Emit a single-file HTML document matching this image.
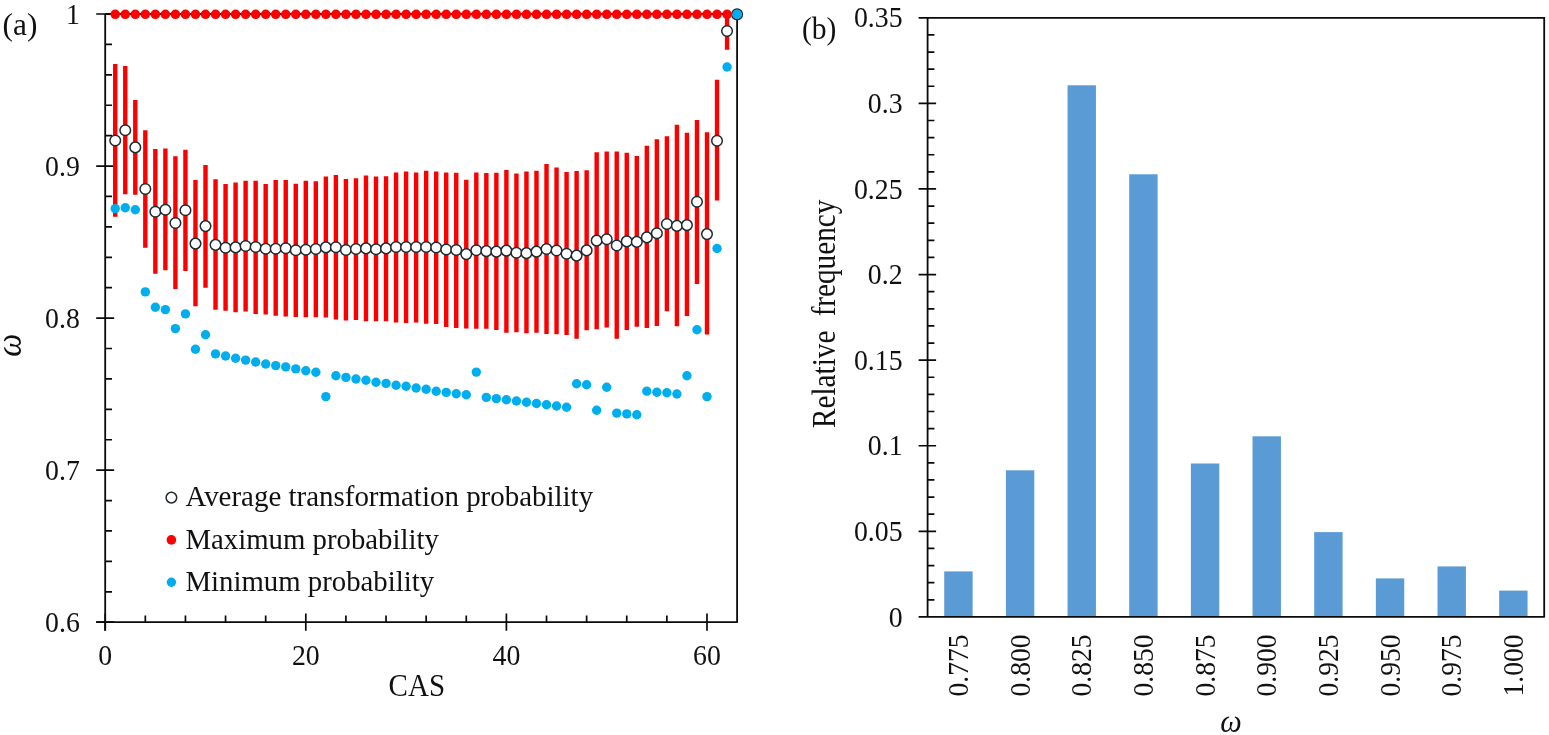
<!DOCTYPE html>
<html><head><meta charset="utf-8"><title>Figure</title>
<style>html,body{margin:0;padding:0;background:#fff}svg{display:block}text{font-family:"Liberation Serif",serif;fill:#111}</style></head><body>
<svg width="1549" height="735" viewBox="0 0 1549 735">
<rect width="1549" height="735" fill="#fff"/>
<g id="chart-a">
<path d="M105.2 14.0H737.1V622.2" fill="none" stroke="#0a0a0a" stroke-width="1.8"/>
<path d="M105.2 14.0V630.7M96.2 622.2H737.8" fill="none" stroke="#0a0a0a" stroke-width="1.8"/>
<path d="M96.2 14.00H114.2M105.2 44.41H112.0M105.2 74.82H112.0M105.2 105.23H112.0M105.2 135.64H112.0M96.2 166.05H114.2M105.2 196.46H112.0M105.2 226.87H112.0M105.2 257.28H112.0M105.2 287.69H112.0M96.2 318.10H114.2M105.2 348.51H112.0M105.2 378.92H112.0M105.2 409.33H112.0M105.2 439.74H112.0M96.2 470.15H114.2M105.2 500.56H112.0M105.2 530.97H112.0M105.2 561.38H112.0M105.2 591.79H112.0M96.2 622.20H114.2M105.20 613.4000000000001V630.7M145.32 615.4000000000001V622.2M185.44 615.4000000000001V622.2M225.56 615.4000000000001V622.2M265.68 615.4000000000001V622.2M305.80 613.4000000000001V630.7M345.92 615.4000000000001V622.2M386.04 615.4000000000001V622.2M426.16 615.4000000000001V622.2M466.28 615.4000000000001V622.2M506.40 613.4000000000001V630.7M546.52 615.4000000000001V622.2M586.64 615.4000000000001V622.2M626.76 615.4000000000001V622.2M666.88 615.4000000000001V622.2M707.00 613.4000000000001V630.7" fill="none" stroke="#0a0a0a" stroke-width="1.7"/>
<path d="M115.23 64.0V216.7M125.26 66.1V194.2M135.29 100.0V194.7M145.32 130.2V247.7M155.35 149.0V273.8M165.38 148.5V270.2M175.41 156.3V289.0M185.44 149.8V271.0M195.47 180.0V306.3M205.50 165.0V287.7M215.53 179.2V309.7M225.56 184.1V310.7M235.59 182.5V312.3M245.62 180.8V311.5M255.65 180.8V314.0M265.68 184.1V314.5M275.71 180.0V315.8M285.74 180.0V316.5M295.77 183.8V317.0M305.80 180.8V317.3M315.83 181.3V317.2M325.86 176.4V317.6M335.89 174.9V319.5M345.92 179.0V320.5M355.95 178.2V320.0M365.98 175.4V321.3M376.01 176.5V321.3M386.04 176.2V321.3M396.07 172.5V322.5M406.10 171.6V323.0M416.13 172.5V322.6M426.16 170.8V323.8M436.19 171.6V324.1M446.22 172.5V327.1M456.25 172.8V327.9M466.28 179.8V328.4M476.31 172.5V328.7M486.34 172.9V328.7M496.37 172.8V330.0M506.40 170.0V332.8M516.43 173.6V332.3M526.46 171.6V333.3M536.49 170.8V332.8M546.52 164.0V334.1M556.55 167.5V334.3M566.58 171.9V334.9M576.61 171.0V338.7M586.64 170.2V330.3M596.67 152.3V329.2M606.70 151.4V327.6M616.73 151.4V338.7M626.76 152.7V330.0M636.79 156.0V326.7M646.82 145.7V327.9M656.85 139.2V325.9M666.88 136.3V311.2M676.91 124.8V326.3M686.94 132.7V316.1M696.97 120.1V283.9M707.00 132.3V334.6M717.03 79.7V200.5M727.06 14.0V49.8" fill="none" stroke="#fa0000" stroke-width="4.4"/>
<g fill="#fff" stroke="#1f2a30" stroke-width="1.5">
<circle cx="115.23" cy="140.5" r="5.3"/>
<circle cx="125.26" cy="130.2" r="5.3"/>
<circle cx="135.29" cy="147.4" r="5.3"/>
<circle cx="145.32" cy="189.0" r="5.3"/>
<circle cx="155.35" cy="211.8" r="5.3"/>
<circle cx="165.38" cy="209.8" r="5.3"/>
<circle cx="175.41" cy="223.0" r="5.3"/>
<circle cx="185.44" cy="210.3" r="5.3"/>
<circle cx="195.47" cy="243.6" r="5.3"/>
<circle cx="205.50" cy="226.1" r="5.3"/>
<circle cx="215.53" cy="244.9" r="5.3"/>
<circle cx="225.56" cy="247.7" r="5.3"/>
<circle cx="235.59" cy="247.4" r="5.3"/>
<circle cx="245.62" cy="246.0" r="5.3"/>
<circle cx="255.65" cy="247.0" r="5.3"/>
<circle cx="265.68" cy="248.7" r="5.3"/>
<circle cx="275.71" cy="248.7" r="5.3"/>
<circle cx="285.74" cy="248.3" r="5.3"/>
<circle cx="295.77" cy="250.3" r="5.3"/>
<circle cx="305.80" cy="249.8" r="5.3"/>
<circle cx="315.83" cy="249.0" r="5.3"/>
<circle cx="325.86" cy="247.4" r="5.3"/>
<circle cx="335.89" cy="247.2" r="5.3"/>
<circle cx="345.92" cy="250.0" r="5.3"/>
<circle cx="355.95" cy="249.0" r="5.3"/>
<circle cx="365.98" cy="248.4" r="5.3"/>
<circle cx="376.01" cy="249.2" r="5.3"/>
<circle cx="386.04" cy="248.4" r="5.3"/>
<circle cx="396.07" cy="247.0" r="5.3"/>
<circle cx="406.10" cy="247.0" r="5.3"/>
<circle cx="416.13" cy="247.0" r="5.3"/>
<circle cx="426.16" cy="247.0" r="5.3"/>
<circle cx="436.19" cy="247.5" r="5.3"/>
<circle cx="446.22" cy="249.5" r="5.3"/>
<circle cx="456.25" cy="250.0" r="5.3"/>
<circle cx="466.28" cy="254.1" r="5.3"/>
<circle cx="476.31" cy="250.3" r="5.3"/>
<circle cx="486.34" cy="251.1" r="5.3"/>
<circle cx="496.37" cy="251.6" r="5.3"/>
<circle cx="506.40" cy="250.6" r="5.3"/>
<circle cx="516.43" cy="252.8" r="5.3"/>
<circle cx="526.46" cy="253.1" r="5.3"/>
<circle cx="536.49" cy="251.6" r="5.3"/>
<circle cx="546.52" cy="249.0" r="5.3"/>
<circle cx="556.55" cy="250.5" r="5.3"/>
<circle cx="566.58" cy="253.7" r="5.3"/>
<circle cx="576.61" cy="255.6" r="5.3"/>
<circle cx="586.64" cy="250.4" r="5.3"/>
<circle cx="596.67" cy="240.6" r="5.3"/>
<circle cx="606.70" cy="239.3" r="5.3"/>
<circle cx="616.73" cy="245.5" r="5.3"/>
<circle cx="626.76" cy="241.4" r="5.3"/>
<circle cx="636.79" cy="241.9" r="5.3"/>
<circle cx="646.82" cy="237.4" r="5.3"/>
<circle cx="656.85" cy="233.3" r="5.3"/>
<circle cx="666.88" cy="224.0" r="5.3"/>
<circle cx="676.91" cy="225.9" r="5.3"/>
<circle cx="686.94" cy="225.1" r="5.3"/>
<circle cx="696.97" cy="201.8" r="5.3"/>
<circle cx="707.00" cy="234.1" r="5.3"/>
<circle cx="717.03" cy="140.8" r="5.3"/>
<circle cx="727.06" cy="31.0" r="5.3"/>
<circle cx="737.09" cy="14.4" r="5.3"/>
</g>
<g fill="#ff0000">
<circle cx="115.23" cy="14.3" r="4.8"/>
<circle cx="125.26" cy="14.3" r="4.8"/>
<circle cx="135.29" cy="14.3" r="4.8"/>
<circle cx="145.32" cy="14.3" r="4.8"/>
<circle cx="155.35" cy="14.3" r="4.8"/>
<circle cx="165.38" cy="14.3" r="4.8"/>
<circle cx="175.41" cy="14.3" r="4.8"/>
<circle cx="185.44" cy="14.3" r="4.8"/>
<circle cx="195.47" cy="14.3" r="4.8"/>
<circle cx="205.50" cy="14.3" r="4.8"/>
<circle cx="215.53" cy="14.3" r="4.8"/>
<circle cx="225.56" cy="14.3" r="4.8"/>
<circle cx="235.59" cy="14.3" r="4.8"/>
<circle cx="245.62" cy="14.3" r="4.8"/>
<circle cx="255.65" cy="14.3" r="4.8"/>
<circle cx="265.68" cy="14.3" r="4.8"/>
<circle cx="275.71" cy="14.3" r="4.8"/>
<circle cx="285.74" cy="14.3" r="4.8"/>
<circle cx="295.77" cy="14.3" r="4.8"/>
<circle cx="305.80" cy="14.3" r="4.8"/>
<circle cx="315.83" cy="14.3" r="4.8"/>
<circle cx="325.86" cy="14.3" r="4.8"/>
<circle cx="335.89" cy="14.3" r="4.8"/>
<circle cx="345.92" cy="14.3" r="4.8"/>
<circle cx="355.95" cy="14.3" r="4.8"/>
<circle cx="365.98" cy="14.3" r="4.8"/>
<circle cx="376.01" cy="14.3" r="4.8"/>
<circle cx="386.04" cy="14.3" r="4.8"/>
<circle cx="396.07" cy="14.3" r="4.8"/>
<circle cx="406.10" cy="14.3" r="4.8"/>
<circle cx="416.13" cy="14.3" r="4.8"/>
<circle cx="426.16" cy="14.3" r="4.8"/>
<circle cx="436.19" cy="14.3" r="4.8"/>
<circle cx="446.22" cy="14.3" r="4.8"/>
<circle cx="456.25" cy="14.3" r="4.8"/>
<circle cx="466.28" cy="14.3" r="4.8"/>
<circle cx="476.31" cy="14.3" r="4.8"/>
<circle cx="486.34" cy="14.3" r="4.8"/>
<circle cx="496.37" cy="14.3" r="4.8"/>
<circle cx="506.40" cy="14.3" r="4.8"/>
<circle cx="516.43" cy="14.3" r="4.8"/>
<circle cx="526.46" cy="14.3" r="4.8"/>
<circle cx="536.49" cy="14.3" r="4.8"/>
<circle cx="546.52" cy="14.3" r="4.8"/>
<circle cx="556.55" cy="14.3" r="4.8"/>
<circle cx="566.58" cy="14.3" r="4.8"/>
<circle cx="576.61" cy="14.3" r="4.8"/>
<circle cx="586.64" cy="14.3" r="4.8"/>
<circle cx="596.67" cy="14.3" r="4.8"/>
<circle cx="606.70" cy="14.3" r="4.8"/>
<circle cx="616.73" cy="14.3" r="4.8"/>
<circle cx="626.76" cy="14.3" r="4.8"/>
<circle cx="636.79" cy="14.3" r="4.8"/>
<circle cx="646.82" cy="14.3" r="4.8"/>
<circle cx="656.85" cy="14.3" r="4.8"/>
<circle cx="666.88" cy="14.3" r="4.8"/>
<circle cx="676.91" cy="14.3" r="4.8"/>
<circle cx="686.94" cy="14.3" r="4.8"/>
<circle cx="696.97" cy="14.3" r="4.8"/>
<circle cx="707.00" cy="14.3" r="4.8"/>
<circle cx="717.03" cy="14.3" r="4.8"/>
<circle cx="727.06" cy="14.3" r="4.8"/>
</g>
<g fill="#00adee">
<circle cx="115.23" cy="208.6" r="4.7"/>
<circle cx="125.26" cy="207.8" r="4.7"/>
<circle cx="135.29" cy="209.7" r="4.7"/>
<circle cx="145.32" cy="291.9" r="4.7"/>
<circle cx="155.35" cy="307.3" r="4.7"/>
<circle cx="165.38" cy="309.6" r="4.7"/>
<circle cx="175.41" cy="328.6" r="4.7"/>
<circle cx="185.44" cy="313.9" r="4.7"/>
<circle cx="195.47" cy="349.3" r="4.7"/>
<circle cx="205.50" cy="334.8" r="4.7"/>
<circle cx="215.53" cy="353.9" r="4.7"/>
<circle cx="225.56" cy="356.0" r="4.7"/>
<circle cx="235.59" cy="358.3" r="4.7"/>
<circle cx="245.62" cy="360.1" r="4.7"/>
<circle cx="255.65" cy="362.0" r="4.7"/>
<circle cx="265.68" cy="364.0" r="4.7"/>
<circle cx="275.71" cy="365.6" r="4.7"/>
<circle cx="285.74" cy="366.9" r="4.7"/>
<circle cx="295.77" cy="368.9" r="4.7"/>
<circle cx="305.80" cy="370.7" r="4.7"/>
<circle cx="315.83" cy="372.3" r="4.7"/>
<circle cx="325.86" cy="396.6" r="4.7"/>
<circle cx="335.89" cy="375.8" r="4.7"/>
<circle cx="345.92" cy="377.4" r="4.7"/>
<circle cx="355.95" cy="379.0" r="4.7"/>
<circle cx="365.98" cy="380.3" r="4.7"/>
<circle cx="376.01" cy="382.3" r="4.7"/>
<circle cx="386.04" cy="383.4" r="4.7"/>
<circle cx="396.07" cy="385.2" r="4.7"/>
<circle cx="406.10" cy="386.3" r="4.7"/>
<circle cx="416.13" cy="388.0" r="4.7"/>
<circle cx="426.16" cy="389.3" r="4.7"/>
<circle cx="436.19" cy="391.2" r="4.7"/>
<circle cx="446.22" cy="392.4" r="4.7"/>
<circle cx="456.25" cy="393.7" r="4.7"/>
<circle cx="466.28" cy="394.8" r="4.7"/>
<circle cx="476.31" cy="372.1" r="4.7"/>
<circle cx="486.34" cy="397.4" r="4.7"/>
<circle cx="496.37" cy="398.6" r="4.7"/>
<circle cx="506.40" cy="399.7" r="4.7"/>
<circle cx="516.43" cy="401.0" r="4.7"/>
<circle cx="526.46" cy="402.2" r="4.7"/>
<circle cx="536.49" cy="403.5" r="4.7"/>
<circle cx="546.52" cy="404.8" r="4.7"/>
<circle cx="556.55" cy="406.0" r="4.7"/>
<circle cx="566.58" cy="407.3" r="4.7"/>
<circle cx="576.61" cy="383.7" r="4.7"/>
<circle cx="586.64" cy="384.8" r="4.7"/>
<circle cx="596.67" cy="410.3" r="4.7"/>
<circle cx="606.70" cy="387.3" r="4.7"/>
<circle cx="616.73" cy="413.1" r="4.7"/>
<circle cx="626.76" cy="413.9" r="4.7"/>
<circle cx="636.79" cy="414.7" r="4.7"/>
<circle cx="646.82" cy="391.1" r="4.7"/>
<circle cx="656.85" cy="392.3" r="4.7"/>
<circle cx="666.88" cy="392.8" r="4.7"/>
<circle cx="676.91" cy="394.0" r="4.7"/>
<circle cx="686.94" cy="375.8" r="4.7"/>
<circle cx="696.97" cy="329.7" r="4.7"/>
<circle cx="707.00" cy="396.6" r="4.7"/>
<circle cx="717.03" cy="248.5" r="4.7"/>
<circle cx="727.06" cy="67.0" r="4.7"/>
<circle cx="737.09" cy="14.4" r="4.7"/>
</g>
<g>
<text transform="translate(2.6 34.8) scale(1 0.99)" font-size="31.4px" text-anchor="start">(a)</text>
<text transform="translate(79.8 23.6) scale(1 1.07)" font-size="27.8px" text-anchor="end">1</text>
<text transform="translate(79.8 175.6) scale(1 1.07)" font-size="27.8px" text-anchor="end">0.9</text>
<text transform="translate(79.8 327.7) scale(1 1.07)" font-size="27.8px" text-anchor="end">0.8</text>
<text transform="translate(79.8 479.8) scale(1 1.07)" font-size="27.8px" text-anchor="end">0.7</text>
<text transform="translate(79.8 631.8) scale(1 1.07)" font-size="27.8px" text-anchor="end">0.6</text>
<text transform="translate(105.2 664.8) scale(1 1.07)" font-size="27.8px" text-anchor="middle">0</text>
<text transform="translate(305.8 664.8) scale(1 1.07)" font-size="27.8px" text-anchor="middle">20</text>
<text transform="translate(506.4 664.8) scale(1 1.07)" font-size="27.8px" text-anchor="middle">40</text>
<text transform="translate(707.0 664.8) scale(1 1.07)" font-size="27.8px" text-anchor="middle">60</text>
<text transform="translate(416.8 696.4) scale(1 1.07)" font-size="29px" text-anchor="middle">CAS</text>
<text transform="translate(20.6 345.3) rotate(-90) scale(1 1.1)" text-anchor="middle" font-style="italic" font-size="32.6px">ω</text>
<circle cx="171.4" cy="497.6" r="5.3" fill="#fff" stroke="#1f2a30" stroke-width="1.5"/>
<circle cx="171.4" cy="539.9" r="4.8" fill="#ff0000"/>
<circle cx="171.4" cy="582.2" r="4.7" fill="#00adee"/>
<text transform="translate(185.4 506.0) scale(1 1.035)" font-size="28.95px" text-anchor="start">Average transformation probability</text>
<text transform="translate(185.4 548.8) scale(1 1.035)" font-size="28.8px" text-anchor="start">Maximum probability</text>
<text transform="translate(185.4 591.3) scale(1 1.035)" font-size="28.8px" text-anchor="start">Minimum probability</text>
</g></g>
<g id="chart-b">
<g fill="#5b9bd5">
<rect x="944.23" y="571.4" width="28.4" height="45.5"/>
<rect x="1005.89" y="470.3" width="28.4" height="146.6"/>
<rect x="1067.55" y="85.3" width="28.4" height="531.6"/>
<rect x="1129.21" y="174.3" width="28.4" height="442.6"/>
<rect x="1190.87" y="463.5" width="28.4" height="153.4"/>
<rect x="1252.53" y="436.3" width="28.4" height="180.6"/>
<rect x="1314.19" y="532.1" width="28.4" height="84.8"/>
<rect x="1375.85" y="578.4" width="28.4" height="38.5"/>
<rect x="1437.51" y="566.4" width="28.4" height="50.5"/>
<rect x="1499.17" y="590.6" width="28.4" height="26.3"/>
</g>
<path d="M918.6 17.8H1544.2V616.9" fill="none" stroke="#0a0a0a" stroke-width="1.8"/>
<path d="M927.6 17.8V616.9M918.6 616.9H1544.9" fill="none" stroke="#0a0a0a" stroke-width="1.8"/>
<path d="M927.6 34.92H934.4M927.6 52.03H934.4M927.6 69.15H934.4M927.6 86.27H934.4M918.6 103.39H936.1M927.6 120.50H934.4M927.6 137.62H934.4M927.6 154.74H934.4M927.6 171.85H934.4M918.6 188.97H936.1M927.6 206.09H934.4M927.6 223.21H934.4M927.6 240.32H934.4M927.6 257.44H934.4M918.6 274.56H936.1M927.6 291.67H934.4M927.6 308.79H934.4M927.6 325.91H934.4M927.6 343.03H934.4M918.6 360.14H936.1M927.6 377.26H934.4M927.6 394.38H934.4M927.6 411.49H934.4M927.6 428.61H934.4M918.6 445.73H936.1M927.6 462.85H934.4M927.6 479.96H934.4M927.6 497.08H934.4M927.6 514.20H934.4M918.6 531.31H936.1M927.6 548.43H934.4M927.6 565.55H934.4M927.6 582.67H934.4M927.6 599.78H934.4" fill="none" stroke="#0a0a0a" stroke-width="1.7"/>
<g>
<text transform="translate(802.0 39.3) scale(1 1.04)" font-size="29.5px" text-anchor="start">(b)</text>
<text transform="translate(902.6 27.4) scale(1 1.07)" font-size="27.8px" text-anchor="end">0.35</text>
<text transform="translate(902.6 113.0) scale(1 1.07)" font-size="27.8px" text-anchor="end">0.3</text>
<text transform="translate(902.6 198.6) scale(1 1.07)" font-size="27.8px" text-anchor="end">0.25</text>
<text transform="translate(902.6 284.2) scale(1 1.07)" font-size="27.8px" text-anchor="end">0.2</text>
<text transform="translate(902.6 369.7) scale(1 1.07)" font-size="27.8px" text-anchor="end">0.15</text>
<text transform="translate(902.6 455.3) scale(1 1.07)" font-size="27.8px" text-anchor="end">0.1</text>
<text transform="translate(902.6 540.9) scale(1 1.07)" font-size="27.8px" text-anchor="end">0.05</text>
<text transform="translate(902.6 626.5) scale(1 1.07)" font-size="27.8px" text-anchor="end">0</text>
<text transform="translate(968.0 634.6) rotate(-90) scale(1 1.07)" text-anchor="end" font-size="27.5px">0.775</text>
<text transform="translate(1029.7 634.6) rotate(-90) scale(1 1.07)" text-anchor="end" font-size="27.5px">0.800</text>
<text transform="translate(1091.3 634.6) rotate(-90) scale(1 1.07)" text-anchor="end" font-size="27.5px">0.825</text>
<text transform="translate(1153.0 634.6) rotate(-90) scale(1 1.07)" text-anchor="end" font-size="27.5px">0.850</text>
<text transform="translate(1214.7 634.6) rotate(-90) scale(1 1.07)" text-anchor="end" font-size="27.5px">0.875</text>
<text transform="translate(1276.3 634.6) rotate(-90) scale(1 1.07)" text-anchor="end" font-size="27.5px">0.900</text>
<text transform="translate(1338.0 634.6) rotate(-90) scale(1 1.07)" text-anchor="end" font-size="27.5px">0.925</text>
<text transform="translate(1399.7 634.6) rotate(-90) scale(1 1.07)" text-anchor="end" font-size="27.5px">0.950</text>
<text transform="translate(1461.3 634.6) rotate(-90) scale(1 1.07)" text-anchor="end" font-size="27.5px">0.975</text>
<text transform="translate(1523.0 634.6) rotate(-90) scale(1 1.07)" text-anchor="end" font-size="27.5px">1.000</text>
<text transform="translate(834.6 313.8) rotate(-90) scale(1 1.13)" text-anchor="middle" font-size="29.2px" word-spacing="7px">Relative frequency</text>
<text transform="translate(1231 732.1) scale(1 1.06)" text-anchor="middle" font-style="italic" font-size="30.4px">ω</text>
</g></g>
</svg></body></html>
